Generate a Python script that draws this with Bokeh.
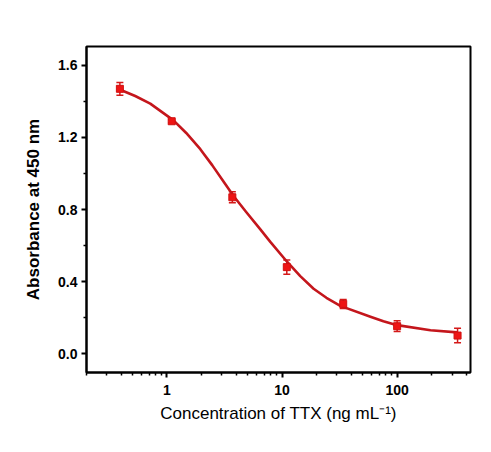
from bokeh.plotting import figure
from bokeh.models import (ColumnDataSource, Range1d, FixedTicker, Whisker, TeeHead)
from bokeh.embed import file_html
from bokeh.resources import INLINE

# data
conc = [0.39, 1.1, 3.7, 11, 34, 100, 335]
absorb = [1.47, 1.29, 0.868, 0.48, 0.276, 0.152, 0.10]
err = [0.035, 0.008, 0.03, 0.04, 0.025, 0.03, 0.04]

fit_x = [0.393, 0.53, 0.716, 1.14, 1.47, 1.95, 2.48, 3.1, 3.79, 4.9, 6.48,
         7.91, 11.05, 14.4, 18.8, 24.3, 32.1, 58.6, 76, 100, 195, 332]
fit_y = [1.465, 1.430, 1.388, 1.295, 1.225, 1.135, 1.045, 0.955, 0.875, 0.785,
         0.690, 0.620, 0.510, 0.430, 0.360, 0.310, 0.265, 0.205, 0.180, 0.158,
         0.130, 0.118]

x_major = [1, 10, 100]
x_minor = [0.2, 0.3, 0.4, 0.5, 0.6, 0.7, 0.8, 0.9, 2, 3, 4, 5, 6, 7, 8, 9,
           20, 30, 40, 50, 60, 70, 80, 90, 200, 300, 400]
y_major = [0.0, 0.4, 0.8, 1.2, 1.6]
y_minor = [0.2, 0.6, 1.0, 1.4]

p = figure(width=488, height=448, x_axis_type="log",
           x_range=Range1d(0.2, 434), y_range=Range1d(-0.105, 1.705),
           output_backend="svg", toolbar_location=None,
           min_border_left=86, min_border_right=18, min_border_top=46,
           min_border_bottom=76)
p.grid.visible = False
p.outline_line_color = "black"
p.outline_line_width = 2

src = ColumnDataSource(dict(x=conc, y=absorb,
                            lo=[a - e for a, e in zip(absorb, err)],
                            hi=[a + e for a, e in zip(absorb, err)]))

p.line(fit_x, fit_y, line_color="#c4161c", line_width=2.6, line_join="round")
w = Whisker(source=src, base="x", lower="lo", upper="hi", dimension="height",
            line_color="#d41818", line_width=1.5,
            lower_head=TeeHead(size=7, line_color="#d41818", line_width=1.5),
            upper_head=TeeHead(size=7, line_color="#d41818", line_width=1.5))
p.add_layout(w)
p.scatter("x", "y", source=src, marker="square", size=7,
          fill_color="#ee1414", line_color="#d01010")

for ax in (p.xaxis[0], p.yaxis[0]):
    ax.axis_line_width = 2
    ax.axis_line_color = "black"
    ax.major_tick_line_width = 2
    ax.minor_tick_line_width = 1.5
    ax.major_tick_out = 5
    ax.major_tick_in = 0
    ax.minor_tick_out = 3
    ax.minor_tick_in = 0
    ax.major_label_text_font = "Liberation Sans"
    ax.major_label_text_font_style = "bold"
    ax.major_label_text_font_size = "14px"
    ax.major_label_text_color = "black"
    ax.axis_label_text_font = "Liberation Sans"
    ax.axis_label_text_color = "black"

p.xaxis[0].ticker = FixedTicker(ticks=x_major, minor_ticks=x_minor)
p.xaxis[0].major_label_overrides = {1: "1", 10: "10", 100: "100"}
p.xaxis[0].major_label_standoff = 7
p.xaxis[0].axis_label = "Concentration of TTX (ng mL\u207b\u00b9)"
p.xaxis[0].axis_label_text_font_style = "normal"
p.xaxis[0].axis_label_text_font_size = "17px"
p.xaxis[0].axis_label_standoff = 6

p.yaxis[0].ticker = FixedTicker(ticks=y_major, minor_ticks=y_minor)
p.yaxis[0].major_label_overrides = {0: "0.0", 0.4: "0.4", 0.8: "0.8", 1.2: "1.2", 1.6: "1.6"}
p.yaxis[0].major_label_standoff = 4
p.yaxis[0].axis_label = "Absorbance at 450 nm"
p.yaxis[0].axis_label_text_font_style = "bold"
p.yaxis[0].axis_label_text_font_size = "17px"
p.yaxis[0].axis_label_standoff = 12

open("out.html", "w").write(file_html(p, INLINE))
